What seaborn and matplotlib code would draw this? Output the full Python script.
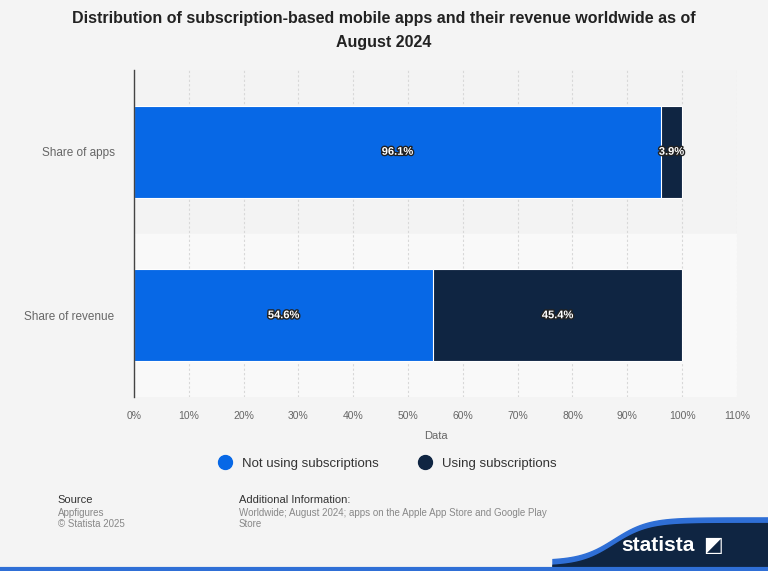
import numpy as np
import pandas as pd
import matplotlib
matplotlib.use('Agg')
import matplotlib.pyplot as plt
import matplotlib.patheffects as pe
from matplotlib.patches import Polygon
from matplotlib.lines import Line2D
import seaborn as sns

# --- data ---
categories = ['Share of apps', 'Share of revenue']
not_using = [96.1, 54.6]
using = [3.9, 45.4]
series_names = ['Not using subscriptions', 'Using subscriptions']
x_ticks = [0, 10, 20, 30, 40, 50, 60, 70, 80, 90, 100, 110]

blue = '#0768e6'
navy = '#0f2542'
bg = '#f4f4f4'

sns.set_theme(style='white')
plt.rcParams['font.family'] = ['Liberation Sans', 'DejaVu Sans']

df = pd.DataFrame({'cat': categories, 'not_using': not_using, 'using': using})
df['total'] = df['not_using'] + df['using']

fig = plt.figure(figsize=(7.68, 5.71), dpi=100, facecolor=bg)
ax = fig.add_axes([0.1745, 0.3047, 0.785, 0.5727])
ax.set_facecolor(bg)

# alternating row bands
ax.axhspan(-0.5, 0.5, color='#f3f3f3', zorder=0)
ax.axhspan(0.5, 1.5, color='#f9f9f9', zorder=0)

# stacked: draw totals (dark) then the first segment (blue) over it
sns.barplot(data=df, y='cat', x='total', color=navy, width=0.56, orient='h',
            ax=ax, zorder=3, edgecolor='white', linewidth=0.8, saturation=1)
sns.barplot(data=df, y='cat', x='not_using', color=blue, width=0.56, orient='h',
            ax=ax, zorder=4, edgecolor='white', linewidth=0.8, saturation=1)

stroke = [pe.withStroke(linewidth=2, foreground='#222222')]
for i, row in df.iterrows():
    ax.text(row['not_using'] / 2, i, f"{row['not_using']:.1f}%", ha='center', va='center',
            color='white', fontsize=8, fontweight='bold', path_effects=stroke, zorder=6)
    ax.text(row['not_using'] + row['using'] / 2, i, f"{row['using']:.1f}%", ha='center',
            va='center', color='white', fontsize=8, fontweight='bold', path_effects=stroke, zorder=6)

ax.set_xlim(0, 110)
ax.set_ylim(1.5, -0.5)
ax.set_xticks(x_ticks)
ax.set_xticklabels([f'{t}%' for t in x_ticks], fontsize=7.5, color='#666666')
ax.tick_params(axis='x', length=0, pad=10)
ax.tick_params(axis='y', length=0, pad=14, labelsize=8.5, labelcolor='#666666')
ax.xaxis.grid(True, linestyle=(0, (2, 2)), color='#d8d8d8', linewidth=0.8, zorder=1)
ax.set_axisbelow(True)
ax.set_ylabel('')
ax.set_xlabel('Data', fontsize=8, color='#666666', labelpad=7)
for s in ['top', 'right', 'bottom']:
    ax.spines[s].set_visible(False)
ax.spines['left'].set_color('#444444')
ax.spines['left'].set_linewidth(1)
ax.spines['left'].set_zorder(10)

# title
fig.text(0.5, 0.968, 'Distribution of subscription-based mobile apps and their revenue worldwide as of',
         ha='center', va='center', fontsize=11.5, fontweight='bold', color='#222222')
fig.text(0.5, 0.925, 'August 2024', ha='center', va='center', fontsize=11.5,
         fontweight='bold', color='#222222')

# legend
handles = [Line2D([0], [0], marker='o', color='none', markerfacecolor=c, markeredgecolor=c,
                  markersize=10) for c in [blue, navy]]
fig.legend(handles, series_names, loc='center', bbox_to_anchor=(0.5, 0.188), ncol=2,
           frameon=False, fontsize=9.5, handletextpad=0.3, columnspacing=2.5,
           labelcolor='#333333')

# footer
fig.text(0.075, 0.125, 'Source', fontsize=8, color='#333333', va='center')
fig.text(0.075, 0.102, 'Appfigures', fontsize=7, color='#888888', va='center')
fig.text(0.075, 0.082, '\u00a9 Statista 2025', fontsize=7, color='#888888', va='center')
fig.text(0.311, 0.125, 'Additional Information:', fontsize=8, color='#333333', va='center')
fig.text(0.311, 0.102, 'Worldwide; August 2024; apps on the Apple App Store and Google Play',
         fontsize=7, color='#888888', va='center')
fig.text(0.311, 0.082, 'Store', fontsize=7, color='#888888', va='center')

# logo band
xs = np.linspace(0.72, 1.0, 60)
curve = 0.012 + 0.075 * (1 / (1 + np.exp(-(xs - 0.80) * 45)))
wave_blue = Polygon(np.column_stack([np.r_[xs, 1.0, 0.72], np.r_[curve + 0.006, 0, 0]]),
                    closed=True, transform=fig.transFigure, color='#2f6fd6', zorder=1)
wave_navy = Polygon(np.column_stack([np.r_[xs, 1.0, 0.72], np.r_[curve - 0.004, 0, 0]]),
                    closed=True, transform=fig.transFigure, color=navy, zorder=2)
fig.patches.extend([wave_blue, wave_navy])
fig.add_artist(Line2D([0, 1], [0.004, 0.004], transform=fig.transFigure, color='#2f6fd6',
                      linewidth=3, zorder=3))
fig.text(0.905, 0.045, 'statista', fontsize=15, fontweight='bold', color='white',
         ha='right', va='center', zorder=4)
fig.text(0.915, 0.045, '\u25e9', fontsize=15, color='white', ha='left', va='center', zorder=4,
         family=['DejaVu Sans'])

fig.savefig('out.png', dpi=100, facecolor=bg)
